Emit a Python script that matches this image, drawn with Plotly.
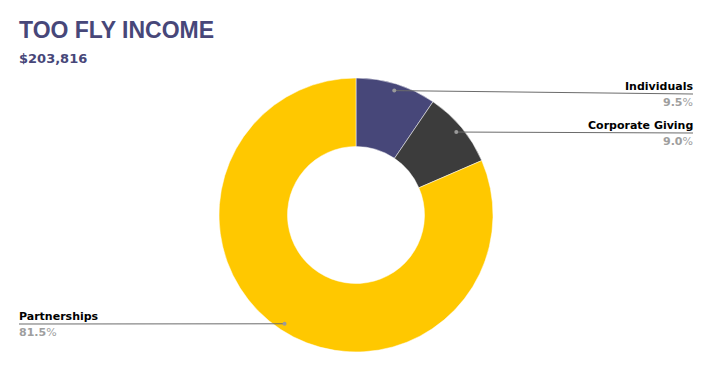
import math
import plotly.graph_objects as go

categories = ["Individuals", "Corporate Giving", "Partnerships"]
shares = [9.5, 9.0, 81.5]
colors = ["#474779", "#3c3c3c", "#ffc800"]
title_text = "TOO FLY INCOME"
total_text = "$203,816"

W, H = 713, 371
cx, cy, R = 356, 215, 137

fig = go.Figure(go.Pie(
    labels=categories, values=shares, hole=0.5, sort=False, direction="clockwise",
    rotation=0, marker=dict(colors=colors, line=dict(color="white", width=0.5)),
    textinfo="none", hoverinfo="label+percent", showlegend=False,
    domain=dict(x=[(cx - R) / W, (cx + R) / W], y=[(H - cy - R) / H, (H - cy + R) / H]),
))

def px(x): return x / W
def py(y): return 1 - y / H

label_pos = {
    "Individuals": (94, "right"),
    "Corporate Giving": (133, "right"),
    "Partnerships": (324, "left"),
}

shapes, annotations = [], []
cum = 0.0
total = sum(shares)
for cat, v in zip(categories, shares):
    mid = (cum + v / 2) / total * 2 * math.pi
    cum += v
    dx = cx + 0.95 * R * math.sin(mid)
    dy = cy - 0.95 * R * math.cos(mid)
    ly, side = label_pos[cat]
    end_x = 693 if side == "right" else 19
    shapes.append(dict(type="line", xref="paper", yref="paper",
                       x0=px(dx), y0=py(dy), x1=px(end_x), y1=py(ly),
                       line=dict(color="#6b6b6b", width=1)))
    shapes.append(dict(type="circle", xref="paper", yref="paper",
                       x0=px(dx - 2), x1=px(dx + 2), y0=py(dy - 2), y1=py(dy + 2),
                       fillcolor="#9a9a9a", line=dict(width=0)))
    anchor = "right" if side == "right" else "left"
    tx = end_x + 2 if side == "right" else end_x - 2
    annotations.append(dict(text=f"<b>{cat}</b>", xref="paper", yref="paper",
                            x=px(tx), y=py(ly - 8), xanchor=anchor, yanchor="middle",
                            showarrow=False, font=dict(family="DejaVu Sans", size=11, color="#000000")))
    annotations.append(dict(text=f"<b>{v:.1f}</b>%", xref="paper", yref="paper",
                            x=px(tx), y=py(ly + 8), xanchor=anchor, yanchor="middle",
                            showarrow=False, font=dict(family="DejaVu Sans", size=11, color="#9e9e9e")))

annotations.append(dict(text=f"<b>{title_text}</b>", xref="paper", yref="paper",
                        x=px(17), y=py(30), xanchor="left", yanchor="middle", showarrow=False,
                        font=dict(family="Liberation Sans", size=23, color="#474779")))
annotations.append(dict(text=f"<b>{total_text}</b>", xref="paper", yref="paper",
                        x=px(17), y=py(58), xanchor="left", yanchor="middle", showarrow=False,
                        font=dict(family="DejaVu Sans", size=13, color="#474779")))

fig.update_layout(width=W, height=H, margin=dict(l=0, r=0, t=0, b=0),
                  paper_bgcolor="white", plot_bgcolor="white",
                  shapes=shapes, annotations=annotations)
fig.write_html("out.html")
